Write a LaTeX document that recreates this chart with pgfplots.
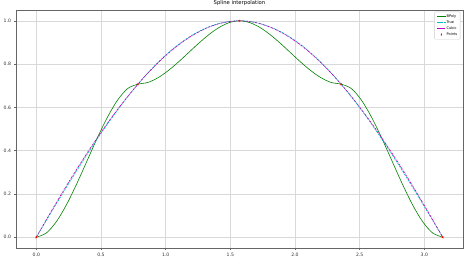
\documentclass[border=0pt]{standalone}
\usepackage{fontspec}
\setmainfont{DejaVu Sans}
\usepackage{pgfplots}
\usepackage{pgfplotstable}
\pgfplotsset{compat=1.18}
\pgfplotstableread{
x true cubic bpoly
0 0 0 0
0.078540 0.078459 0.082016 0.019799
0.157080 0.156434 0.162205 0.073539
0.235619 0.233445 0.240312 0.152735
0.314159 0.309017 0.316078 0.248902
0.392699 0.382683 0.389245 0.353553
0.471239 0.453990 0.459557 0.458205
0.549779 0.522499 0.526758 0.554372
0.628319 0.587785 0.590588 0.633568
0.706858 0.649448 0.650789 0.687308
0.785398 0.707107 0.707107 0.707107
0.863938 0.760406 0.759282 0.715308
0.942478 0.809017 0.807058 0.737568
1.021018 0.852640 0.850178 0.770372
1.099557 0.891007 0.888383 0.810205
1.178097 0.923880 0.921416 0.853553
1.256637 0.951057 0.949020 0.896902
1.335177 0.972370 0.970940 0.936735
1.413717 0.987688 0.986918 0.969539
1.492257 0.996917 0.996694 0.991799
1.570796 1 1 1
1.649336 0.996917 0.996694 0.991799
1.727876 0.987688 0.986918 0.969539
1.806416 0.972370 0.970940 0.936735
1.884956 0.951057 0.949020 0.896902
1.963495 0.923880 0.921416 0.853553
2.042035 0.891007 0.888383 0.810205
2.120575 0.852640 0.850178 0.770372
2.199115 0.809017 0.807058 0.737568
2.277655 0.760406 0.759282 0.715308
2.356194 0.707107 0.707107 0.707107
2.434734 0.649448 0.650789 0.687308
2.513274 0.587785 0.590588 0.633568
2.591814 0.522499 0.526758 0.554372
2.670354 0.453990 0.459557 0.458205
2.748894 0.382683 0.389245 0.353553
2.827433 0.309017 0.316078 0.248902
2.905973 0.233445 0.240312 0.152735
2.984513 0.156434 0.162205 0.073539
3.063053 0.078459 0.082016 0.019799
3.141593 0 0 0
}\datatable
\pgfplotstableread{
x y
0 0
0.785398 0.707107
1.570796 1
2.356194 0.707107
3.141593 0
}\pointtable
\definecolor{mplgreen}{RGB}{0,128,0}
\definecolor{mplcyan}{RGB}{0,191,191}
\definecolor{mplmag}{RGB}{191,0,191}
\begin{document}
\begin{tikzpicture}
\useasboundingbox (0,0) rectangle (474bp,262bp);
\begin{axis}[
  at={(16bp,14bp)}, anchor=south west,
  scale only axis, width=447bp, height=238bp,
  xmin=-0.15708, xmax=3.29867, ymin=-0.05, ymax=1.05,
  xtick={0,0.5,...,3.0}, ytick={0,0.2,...,1.0},
  xtick pos=bottom, ytick pos=left,
  xticklabel style={/pgf/number format/.cd, fixed, fixed zerofill, precision=1},
  yticklabel style={/pgf/number format/.cd, fixed, fixed zerofill, precision=1},
  /pgf/number format/assume math mode=true,
  ticklabel style={font=\fontsize{4.6}{5.5}\selectfont, text=black!80},
  tick align=outside, major tick length=1.5bp,
  tick style={black!60, line width=0.4bp},
  axis line style={black!60, line width=0.5bp},
  grid=major, grid style={gray!30, line width=0.5bp},
  title={Spline interpolation},
  title style={font=\fontsize{5.3}{6.3}\selectfont, yshift=-5.5bp},
  legend style={at={(0.994,0.993)}, anchor=north east, font=\fontsize{3.6}{4.2}\selectfont,
    draw=gray!40, rounded corners=0.8bp, row sep=0.6bp, inner xsep=2.2bp, inner ysep=2bp,
    nodes={inner sep=0.6bp}},
  legend cell align=left,
  legend image post style={xscale=0.5},
]
\addplot[mplgreen, line width=0.6bp, smooth] table[x=x, y=bpoly] {\datatable};
\addlegendentry{BPoly}
\addplot[mplcyan, line width=0.6bp, dash pattern=on 2.2bp off 1bp, smooth] table[x=x, y=true] {\datatable};
\addlegendentry{True}
\addplot[mplmag, line width=0.6bp, dash pattern=on 2.2bp off 0.8bp on 0.5bp off 0.8bp, smooth] table[x=x, y=cubic] {\datatable};
\addlegendentry{Cubic}
\addplot[only marks, red, mark=star, mark size=1.2bp, mark options={line width=0.4bp}] table[x=x, y=y] {\pointtable};
\addlegendentry{Points}
\end{axis}
\end{tikzpicture}
\end{document}
